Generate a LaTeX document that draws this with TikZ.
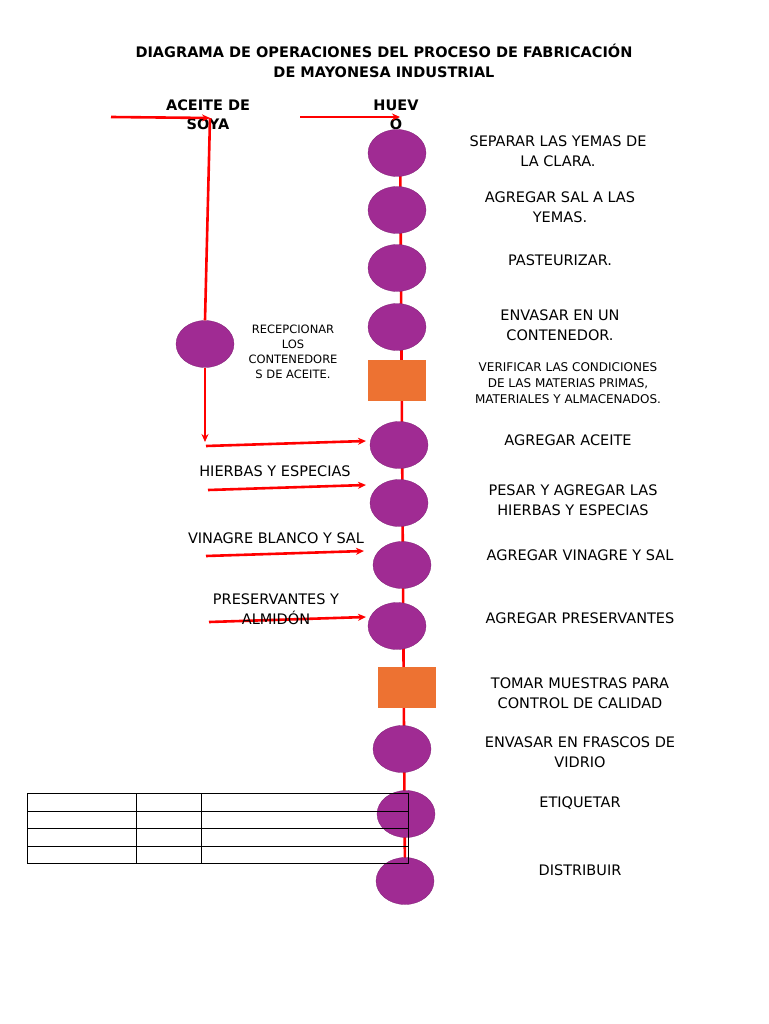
\documentclass[tikz,border=0pt]{standalone}
\usepackage{fontspec}
\setmainfont{DejaVu Sans}
\usetikzlibrary{arrows.meta,shapes.geometric}
\definecolor{purp}{HTML}{A02B93}
\definecolor{orng}{HTML}{ED7232}
\begin{document}
\begin{tikzpicture}[x=1pt,y=-1pt,
 op/.style={ellipse,fill=purp,draw=purp!80!black,line width=0.3pt,minimum width=58pt,minimum height=47pt,inner sep=0},
 insp/.style={rectangle,fill=orng,minimum width=58pt,minimum height=41pt,inner sep=0},
 lbl/.style={align=center,font=\fontsize{14.5}{20}\selectfont},
 slbl/.style={align=center,font=\fontsize{11.5}{15}\selectfont},
 flow/.style={red,line width=2.6pt},
 arr/.style={red,line width=2.6pt,-{Stealth[length=8pt,width=7pt]}}]
\useasboundingbox[fill=white] (0,0) rectangle (768,1024);
\node[font=\bfseries\fontsize{14.5}{20}\selectfont,align=center] (title) at (384,61) {DIAGRAMA DE OPERACIONES DEL PROCESO DE FABRICACIÓN\\DE MAYONESA INDUSTRIAL};
\node[font=\bfseries\fontsize{14.5}{19}\selectfont,align=center] (aceite) at (208,115) {ACEITE DE\\SOYA};
\node[font=\bfseries\fontsize{14.5}{19}\selectfont,align=center] (huevo) at (396,115) {HUEV\\O};
\coordinate (a0) at (111,117); \coordinate (a1) at (210,118);
\coordinate (h0) at (300,117); \coordinate (h1) at (400,117);
\coordinate (top) at (400,130); \coordinate (bot) at (405,880);
\coordinate (l1) at (205,442); \coordinate (l1s) at (206,446);
\draw[flow] (top) -- (bot);
\draw[arr] (a0) -- (a1);
\draw[arr] (h0) -- (h1);
\node[op] (o1) at (397,153) {};
\node[op] (o2) at (397,210) {};
\node[op] (o3) at (397,268) {};
\node[op] (o4) at (397,327) {};
\node[insp] (i1) at (397,380) {};
\node[op] (o5) at (399,445) {};
\node[op] (o6) at (399,503) {};
\node[op] (o7) at (402,565) {};
\node[op] (o8) at (397,626) {};
\node[insp] (i2) at (407,687) {};
\node[op] (o9) at (402,749) {};
\node[op] (o10) at (406,814) {};
\node[op] (o11) at (405,881) {};
\node[op] (oL) at (205,344) {};
\draw[flow] (a1) -- (oL.north);
\draw[arr] (oL.south) -- (l1);
\coordinate (e1) at (366,441);
\coordinate (s2) at (208,490); \coordinate (e2) at (366,485);
\coordinate (s3) at (206,556); \coordinate (e3) at (364,551);
\coordinate (s4) at (209,622); \coordinate (e4) at (366,617);
\draw[arr] (l1s) -- (e1);
\draw[arr] (s2) -- (e2);
\draw[arr] (s3) -- (e3);
\draw[arr] (s4) -- (e4);
\node[lbl] (t2) at (275,471) {HIERBAS Y ESPECIAS};
\node[lbl] (t3) at (276,538) {VINAGRE BLANCO Y SAL};
\node[lbl] (t4) at (276,609) {PRESERVANTES Y\\ALMIDÓN};
\node[slbl] (tL) at (293,352) {RECEPCIONAR\\LOS\\CONTENEDORE\\S DE ACEITE.};
\node[lbl] (r1) at (558,151) {SEPARAR LAS YEMAS DE\\LA CLARA.};
\node[lbl] (r2) at (560,207) {AGREGAR SAL A LAS\\YEMAS.};
\node[lbl] (r3) at (560,260) {PASTEURIZAR.};
\node[lbl] (r4) at (560,325) {ENVASAR EN UN\\CONTENEDOR.};
\node[slbl,font=\fontsize{12}{16}\selectfont] (r5) at (568,383) {VERIFICAR LAS CONDICIONES\\DE LAS MATERIAS PRIMAS,\\MATERIALES Y ALMACENADOS.};
\node[lbl] (r6) at (568,440) {AGREGAR ACEITE};
\node[lbl] (r7) at (573,500) {PESAR Y AGREGAR LAS\\HIERBAS Y ESPECIAS};
\node[lbl] (r8) at (580,555) {AGREGAR VINAGRE Y SAL};
\node[lbl] (r9) at (580,618) {AGREGAR PRESERVANTES};
\node[lbl] (r10) at (580,693) {TOMAR MUESTRAS PARA\\CONTROL DE CALIDAD};
\node[lbl] (r11) at (580,752) {ENVASAR EN FRASCOS DE\\VIDRIO};
\node[lbl] (r12) at (580,803) {ETIQUETAR};
\node[lbl] (r13) at (580,870) {DISTRIBUIR};
\draw[black,line width=0.8pt] (27,793) rectangle (408,863);
\foreach \yy in {811,828,846} \draw[black,line width=0.8pt] (27,\yy) -- (408,\yy);
\foreach \xx in {136,201} \draw[black,line width=0.8pt] (\xx,793) -- (\xx,863);
\end{tikzpicture}
\end{document}
